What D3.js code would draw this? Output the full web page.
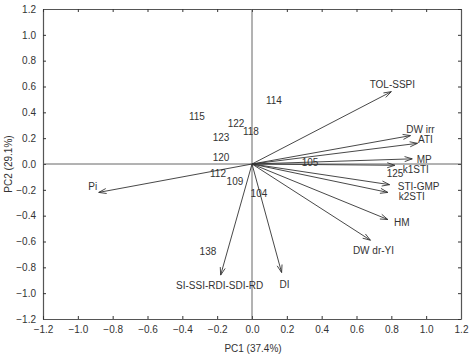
<!DOCTYPE html>
<html><head><meta charset="utf-8">
<script src="https://cdn.jsdelivr.net/npm/d3@7"></script>
<style>body{margin:0;background:#fff}svg{display:block}text{font-family:"Liberation Sans",Arial,sans-serif}</style>
</head><body><div id="chart"></div>
<script>
// Variable loadings (arrow tips)
const varNames = ["TOL-SSPI","DW irr","ATI","MP","k1STI","STI-GMP","k2STI","HM","DW dr-YI","DI","SI-SSI-RDI-SDI-RD","Pi"];
const varPC1 = [0.80, 0.91, 0.95, 0.92, 0.82, 0.79, 0.78, 0.78, 0.68, 0.17, -0.18, -0.88];
const varPC2 = [0.56, 0.22, 0.16, 0.04, -0.01, -0.16, -0.22, -0.43, -0.59, -0.84, -0.86, -0.22];
// Observation scores
const obsNames = ["114","115","122","118","123","120","112","109","104","105","125","138"];
const obsPC1 = [0.126, -0.316, -0.092, -0.006, -0.178, -0.178, -0.195, -0.098, 0.040, 0.333, 0.821, -0.253];
const obsPC2 = [0.488, 0.364, 0.317, 0.255, 0.209, 0.054, -0.070, -0.132, -0.225, 0.015, -0.070, -0.674];
const ticks = [-1.2,-1.0,-0.8,-0.6,-0.4,-0.2,0.0,0.2,0.4,0.6,0.8,1.0,1.2];
const xTitle = "PC1 (37.4%)", yTitle = "PC2 (29.1%)";

// label offsets (px) from arrow tip
const labOff = [[1,-7],[10,-6],[8,-4],[12,1],[21,4],[29,2],[24,4],[14,3],[3,10],[3,12],[-1,10],[-6,-6]];

const W=474,H=355;
const svg=d3.select("#chart").append("svg").attr("width",W).attr("height",H);
const x=d3.scaleLinear().domain([-1.2,1.2]).range([43,461]);
const y=d3.scaleLinear().domain([-1.2,1.2]).range([319,9]);
const fmt=d3.format(".1f");
const tcol="#333", fcol="#666";

// axes
const axL=svg.append("g").attr("transform",`translate(${x(-1.2)},0)`).call(d3.axisLeft(y).tickValues(ticks).tickFormat(fmt).tickSizeInner(-3).tickSizeOuter(0).tickPadding(7));
const axB=svg.append("g").attr("transform",`translate(0,${y(-1.2)})`).call(d3.axisBottom(x).tickValues(ticks).tickFormat(fmt).tickSizeInner(-3).tickSizeOuter(0).tickPadding(7));
const axT=svg.append("g").attr("transform",`translate(0,${y(1.2)})`).call(d3.axisTop(x).tickValues(ticks).tickFormat("").tickSizeInner(-3).tickSizeOuter(0));
const axR=svg.append("g").attr("transform",`translate(${x(1.2)},0)`).call(d3.axisRight(y).tickValues(ticks).tickFormat("").tickSizeInner(-3).tickSizeOuter(0));
[axL,axB,axT,axR].forEach(a=>{
  a.select(".domain").attr("stroke","#555").attr("stroke-width",1.2);
  a.selectAll(".tick line").attr("stroke","#333");
  a.selectAll("text").attr("font-size",10).attr("fill",tcol).attr("font-family",'"Liberation Sans",Arial,sans-serif');
});
// zero lines
svg.append("line").attr("x1",x(-1.2)).attr("x2",x(1.2)).attr("y1",y(0)).attr("y2",y(0)).attr("stroke",fcol).attr("stroke-width",1);
svg.append("line").attr("x1",x(0)).attr("x2",x(0)).attr("y1",y(1.2)).attr("y2",y(-1.2)).attr("stroke",fcol).attr("stroke-width",1);

// arrows
const g=svg.append("g");
varNames.forEach((n,i)=>{
  const x0=x(0),y0=y(0),x1=x(varPC1[i]),y1=y(varPC2[i]);
  g.append("line").attr("x1",x0).attr("y1",y0).attr("x2",x1).attr("y2",y1).attr("stroke","#333").attr("stroke-width",0.9);
  const a=Math.atan2(y1-y0,x1-x0), L=8, s=0.32;
  const p1=[x1-L*Math.cos(a-s),y1-L*Math.sin(a-s)], p2=[x1-L*Math.cos(a+s),y1-L*Math.sin(a+s)];
  g.append("path").attr("d",`M${p1}L${x1},${y1}L${p2}`).attr("fill","none").attr("stroke","#333").attr("stroke-width",0.9);
  g.append("text").attr("x",x1+labOff[i][0]).attr("y",y1+labOff[i][1]).attr("dy","0.35em").attr("text-anchor","middle")
   .attr("font-size",10).attr("fill",tcol).text(n);
});
// observations
obsNames.forEach((n,i)=>{
  svg.append("text").attr("x",x(obsPC1[i])).attr("y",y(obsPC2[i])).attr("dy","0.35em").attr("text-anchor","middle")
   .attr("font-size",10).attr("fill",tcol).text(n);
});
// titles
svg.append("text").attr("x",253).attr("y",352).attr("text-anchor","middle").attr("font-size",10).attr("fill",tcol).text(xTitle);
svg.append("text").attr("transform",`translate(12,${y(0)}) rotate(-90)`).attr("text-anchor","middle").attr("font-size",10).attr("fill",tcol).text(yTitle);
</script></body></html>
